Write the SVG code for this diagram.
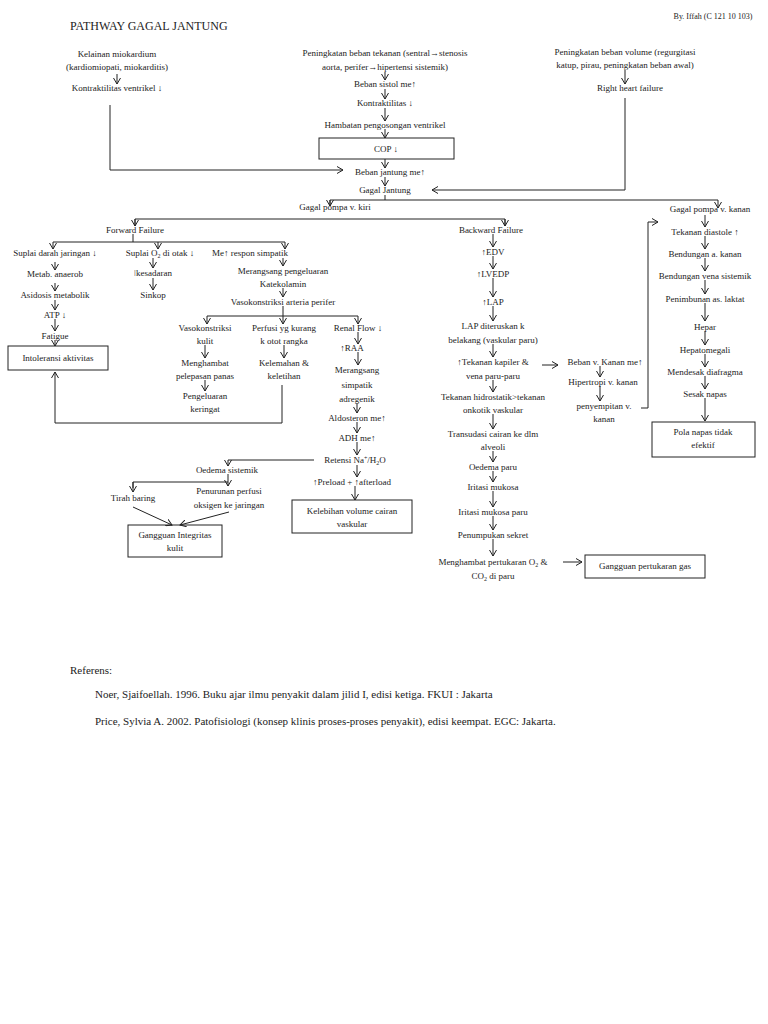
<svg xmlns="http://www.w3.org/2000/svg" width="768" height="1024" viewBox="0 0 768 1024">
<style>
text{font-family:"Liberation Serif",serif;font-size:9px;fill:#222;text-anchor:middle}
.l{text-anchor:start}
.c line,.c polyline{stroke:#222;stroke-width:1;fill:none}
.a{marker-end:url(#m)}
rect{fill:#fff;stroke:#222;stroke-width:1}
</style>
<defs><marker id="m" markerWidth="8" markerHeight="8" refX="6" refY="4" orient="auto" markerUnits="userSpaceOnUse"><path d="M0,0.5 L6,4 L0,7.5" fill="none" stroke="#222" stroke-width="1"/></marker></defs>
<rect x="0" y="0" width="768" height="1024" style="stroke:none"/>
<text class="l" x="70" y="30" style="font-size:12px">PATHWAY GAGAL JANTUNG</text>
<text x="713" y="19" style="font-size:8px">By. Iffah (C 121 10 103)</text>

<g id="boxes">
<rect x="319" y="138" width="135" height="21"/>
<rect x="8" y="346" width="100" height="24"/>
<rect x="292" y="500" width="120" height="33"/>
<rect x="128" y="525" width="94" height="32"/>
<rect x="652" y="422" width="103" height="35"/>
<rect x="585" y="555" width="120" height="23"/>
</g>

<g class="c">
<line class="a" x1="117" y1="74" x2="117" y2="84"/>
<line class="a" x1="385" y1="72" x2="385" y2="80"/>
<line class="a" x1="385" y1="89" x2="385" y2="99"/>
<line class="a" x1="385" y1="108" x2="385" y2="121"/>
<line class="a" x1="385" y1="129" x2="385" y2="138"/>
<line class="a" x1="385" y1="159" x2="385" y2="168"/>
<line class="a" x1="385" y1="177" x2="385" y2="186"/>
<line class="a" x1="625" y1="70" x2="625" y2="84"/>
<polyline class="a" points="110,105 110,170 343,170"/>
<polyline class="a" points="625,98 625,190 432,190"/>
<line x1="385" y1="195" x2="385" y2="200"/>
<polyline points="330,206 330,200 718,200"/>
<line class="a" x1="330" y1="200" x2="330" y2="206"/>
<line class="a" x1="718" y1="200" x2="718" y2="208"/>
<polyline points="135,226 135,219 505,219 505,226"/>
<line class="a" x1="135" y1="219" x2="135" y2="226"/>
<line class="a" x1="505" y1="219" x2="505" y2="226"/>
<line x1="133" y1="234" x2="133" y2="242"/>
<line x1="53" y1="242" x2="285" y2="242"/>
<line class="a" x1="53" y1="242" x2="53" y2="249"/>
<line class="a" x1="158" y1="242" x2="158" y2="249"/>
<line class="a" x1="285" y1="242" x2="285" y2="249"/>
<line class="a" x1="55" y1="262" x2="55" y2="270"/>
<line class="a" x1="55" y1="283" x2="55" y2="291"/>
<line class="a" x1="55" y1="300" x2="55" y2="310"/>
<line class="a" x1="55" y1="319" x2="55" y2="331"/>
<line class="a" x1="55" y1="340" x2="55" y2="346"/>
<line class="a" x1="153" y1="258" x2="153" y2="268"/>
<line class="a" x1="153" y1="278" x2="153" y2="290"/>
<line class="a" x1="283" y1="258" x2="283" y2="266"/>
<line class="a" x1="283" y1="288" x2="283" y2="297"/>
<line x1="207" y1="316" x2="358" y2="316"/>
<line x1="283" y1="306" x2="283" y2="316"/>
<line class="a" x1="207" y1="316" x2="207" y2="324"/>
<line class="a" x1="283" y1="316" x2="283" y2="324"/>
<line class="a" x1="358" y1="316" x2="358" y2="324"/>
<line class="a" x1="205" y1="345" x2="205" y2="358"/>
<line class="a" x1="205" y1="380" x2="205" y2="391"/>
<line class="a" x1="284" y1="345" x2="284" y2="358"/>
<line class="a" x1="358" y1="332" x2="358" y2="344"/>
<line class="a" x1="358" y1="352" x2="358" y2="365"/>
<line class="a" x1="357" y1="403" x2="357" y2="413"/>
<line class="a" x1="357" y1="422" x2="357" y2="433"/>
<line class="a" x1="357" y1="442" x2="357" y2="455"/>
<line class="a" x1="357" y1="465" x2="357" y2="477"/>
<line class="a" x1="355" y1="486" x2="355" y2="500"/>
<polyline class="a" points="282,385 282,423 55,423 55,372"/>
<polyline class="a" points="314,460 228,460 228,466"/>
<line x1="228" y1="474" x2="228" y2="482"/>
<polyline points="133,488 133,482 228,482"/>
<line class="a" x1="133" y1="482" x2="133" y2="492"/>
<line class="a" x1="228" y1="482" x2="228" y2="486"/>
<line class="a" x1="133" y1="507" x2="172" y2="525"/>
<line class="a" x1="229" y1="512" x2="180" y2="525"/>
<line class="a" x1="493" y1="234" x2="493" y2="247"/>
<line class="a" x1="493" y1="256" x2="493" y2="269"/>
<line class="a" x1="493" y1="278" x2="493" y2="297"/>
<line class="a" x1="493" y1="306" x2="493" y2="321"/>
<line class="a" x1="493" y1="344" x2="493" y2="357"/>
<line class="a" x1="493" y1="380" x2="493" y2="392"/>
<line class="a" x1="493" y1="414" x2="493" y2="429"/>
<line class="a" x1="493" y1="451" x2="493" y2="462"/>
<line class="a" x1="493" y1="471" x2="493" y2="482"/>
<line class="a" x1="493" y1="491" x2="493" y2="507"/>
<line class="a" x1="493" y1="516" x2="493" y2="530"/>
<line class="a" x1="493" y1="539" x2="493" y2="556"/>
<line class="a" x1="563" y1="562" x2="582" y2="562"/>
<line class="a" x1="542" y1="365" x2="558" y2="365"/>
<line class="a" x1="600" y1="366" x2="600" y2="377"/>
<line class="a" x1="600" y1="386" x2="600" y2="401"/>
<polyline class="a" points="641,408 648,408 648,222 658,222"/>
<line class="a" x1="705" y1="215" x2="705" y2="227"/>
<line class="a" x1="705" y1="236" x2="705" y2="249"/>
<line class="a" x1="705" y1="258" x2="705" y2="271"/>
<line class="a" x1="705" y1="280" x2="705" y2="294"/>
<line class="a" x1="705" y1="303" x2="705" y2="321"/>
<line class="a" x1="705" y1="331" x2="705" y2="345"/>
<line class="a" x1="705" y1="354" x2="705" y2="367"/>
<line class="a" x1="705" y1="376" x2="705" y2="389"/>
<line class="a" x1="705" y1="398" x2="705" y2="421"/>
</g>

<g id="nodes">
<text x="117" y="57">Kelainan miokardium</text>
<text x="117" y="70">(kardiomiopati, miokarditis)</text>
<text x="117" y="91">Kontraktilitas ventrikel ↓</text>
<text x="385" y="56">Peningkatan beban tekanan (sentral→stenosis</text>
<text x="385" y="70">aorta, perifer→hipertensi sistemik)</text>
<text x="385" y="87">Beban sistol me↑</text>
<text x="385" y="106">Kontraktilitas ↓</text>
<text x="385" y="128">Hambatan pengosongan ventrikel</text>
<text x="386" y="152">COP ↓</text>
<text x="390" y="175">Beban jantung me↑</text>
<text x="385" y="193">Gagal Jantung</text>
<text x="625" y="55">Peningkatan beban volume (regurgitasi</text>
<text x="625" y="68">katup, pirau, peningkatan beban awal)</text>
<text x="630" y="91">Right heart failure</text>
<text x="335" y="210">Gagal pompa v. kiri</text>
<text x="710" y="212">Gagal pompa v. kanan</text>
<text x="135" y="233">Forward Failure</text>
<text x="491" y="233">Backward Failure</text>
<text x="55" y="256">Suplai darah jaringan ↓</text>
<text x="160" y="256">Suplai O<tspan font-size="6" dy="2">2</tspan><tspan dy="-2"> di otak ↓</tspan></text>
<text x="250" y="256">Me↑ respon simpatik</text>
<text x="55" y="277">Metab. anaerob</text>
<text x="55" y="298">Asidosis metabolik</text>
<text x="55" y="318">ATP ↓</text>
<text x="55" y="339">Fatigue</text>
<text x="58" y="361">Intoleransi aktivitas</text>
<text x="153" y="276">ǀkesadaran</text>
<text x="153" y="298">Sinkop</text>
<text x="283" y="274">Merangsang pengeluaran</text>
<text x="283" y="287">Katekolamin</text>
<text x="283" y="305">Vasokonstriksi arteria perifer</text>
<text x="205" y="331">Vasokonstriksi</text>
<text x="205" y="344">kulit</text>
<text x="205" y="366">Menghambat</text>
<text x="205" y="379">pelepasan panas</text>
<text x="205" y="399">Pengeluaran</text>
<text x="205" y="412">keringat</text>
<text x="284" y="331">Perfusi yg kurang</text>
<text x="284" y="344">k otot rangka</text>
<text x="284" y="366">Kelemahan &amp;</text>
<text x="284" y="379">keletihan</text>
<text x="358" y="331">Renal Flow ↓</text>
<text x="352" y="351">↑RAA</text>
<text x="357" y="373">Merangsang</text>
<text x="357" y="388">simpatik</text>
<text x="357" y="402">adregenik</text>
<text x="357" y="421">Aldosteron me↑</text>
<text x="357" y="441">ADH me↑</text>
<text x="355" y="463">Retensi Na<tspan font-size="6" dy="-3">+</tspan><tspan dy="3">/H</tspan><tspan font-size="6" dy="2">2</tspan><tspan dy="-2">O</tspan></text>
<text x="352" y="485">↑Preload  + ↑afterload</text>
<text x="352" y="514">Kelebihan volume cairan</text>
<text x="352" y="527">vaskular</text>
<text x="227" y="473">Oedema sistemik</text>
<text x="133" y="501">Tirah baring</text>
<text x="229" y="494">Penurunan perfusi</text>
<text x="229" y="508">oksigen ke jaringan</text>
<text x="175" y="538">Gangguan Integritas</text>
<text x="175" y="551">kulit</text>
<text x="493" y="255">↑EDV</text>
<text x="493" y="277">↑LVEDP</text>
<text x="493" y="305">↑LAP</text>
<text x="493" y="329">LAP diteruskan k</text>
<text x="493" y="343">belakang (vaskular paru)</text>
<text x="493" y="365">↑Tekanan kapiler &amp;</text>
<text x="493" y="379">vena paru-paru</text>
<text x="493" y="400">Tekanan hidrostatik&gt;tekanan</text>
<text x="493" y="413">onkotik vaskular</text>
<text x="493" y="437">Transudasi cairan ke dlm</text>
<text x="493" y="450">alveoli</text>
<text x="493" y="470">Oedema paru</text>
<text x="493" y="490">Iritasi mukosa</text>
<text x="493" y="515">Iritasi mukosa  paru</text>
<text x="493" y="538">Penumpukan sekret</text>
<text x="493" y="565">Menghambat pertukaran O<tspan font-size="6" dy="2">2</tspan><tspan dy="-2"> &amp;</tspan></text>
<text x="493" y="579">CO<tspan font-size="6" dy="2">2</tspan><tspan dy="-2"> di paru</tspan></text>
<text x="645" y="569">Gangguan pertukaran gas</text>
<text x="605" y="365">Beban v. Kanan me↑</text>
<text x="603" y="385">Hipertropi v. kanan</text>
<text x="604" y="409">penyempitan v.</text>
<text x="604" y="422">kanan</text>
<text x="705" y="235">Tekanan diastole ↑</text>
<text x="705" y="257">Bendungan a. kanan</text>
<text x="705" y="279">Bendungan vena sistemik</text>
<text x="705" y="302">Penimbunan as. laktat</text>
<text x="705" y="330">Hepar</text>
<text x="705" y="353">Hepatomegali</text>
<text x="705" y="375">Mendesak diafragma</text>
<text x="705" y="397">Sesak napas</text>
<text x="703" y="435">Pola napas tidak</text>
<text x="703" y="448">efektif</text>
</g>
<text class="l" x="70" y="674" style="font-size:11px">Referens:</text>
<text class="l" x="95" y="698" style="font-size:11px">Noer, Sjaifoellah. 1996. Buku ajar ilmu penyakit dalam jilid I, edisi ketiga. FKUI : Jakarta</text>
<text class="l" x="95" y="725" style="font-size:11px">Price, Sylvia A. 2002. Patofisiologi (konsep klinis proses-proses penyakit), edisi keempat. EGC: Jakarta.</text>
</svg>
